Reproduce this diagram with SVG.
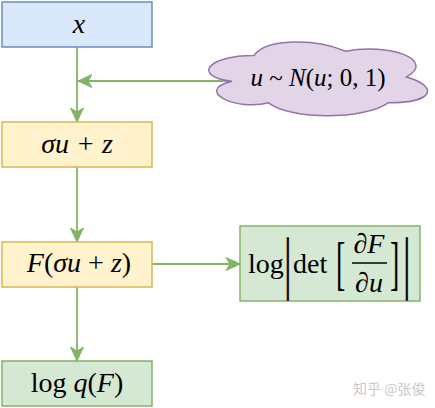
<svg xmlns="http://www.w3.org/2000/svg" width="435" height="408" viewBox="0 0 435 408">
<defs>
<marker id="arr" markerUnits="userSpaceOnUse" markerWidth="16" markerHeight="14" refX="14" refY="7" orient="auto">
<path d="M0,0.5 L14,7 L0,13.5 L4,7 Z" fill="#82b366" stroke="#82b366" stroke-width="1"/>
</marker>
<style>
.blue{fill:#dae8fc;stroke:#6c8ebf;stroke-width:1.5}
.yellow{fill:#fff2cc;stroke:#d6b656;stroke-width:1.5}
.green{fill:#d5e8d4;stroke:#82b366;stroke-width:1.5}
.cloud{fill:#e1d5e7;stroke:#9673a6;stroke-width:1.5}
.edge{stroke:#82b366;stroke-width:1.8;fill:none;marker-end:url(#arr)}
.m{font-family:"Liberation Serif",serif;font-size:28px;fill:#000}
.i{font-style:italic}
.d{stroke:#000;stroke-width:0.7}
.wm{font-family:"Noto Sans CJK SC",sans-serif;font-size:14px;fill:#c8c8c8}
</style>
</defs>
<rect width="435" height="408" fill="#ffffff"/>
<g id="connectors">
<line class="edge" x1="77" y1="47" x2="77" y2="122"/>
<line class="edge" x1="233" y1="81" x2="78" y2="81"/>
<line class="edge" x1="77" y1="167" x2="77" y2="242"/>
<line class="edge" x1="152" y1="264" x2="240" y2="264"/>
<line class="edge" x1="77" y1="287" x2="77" y2="361"/>
</g>
<g id="node-x">
<rect class="blue" x="2" y="2" width="150" height="45"/>
<text class="m i" x="79" y="33" text-anchor="middle">x</text>
</g>
<g id="node-noise">
<path class="cloud" d="M254,55.5 C205.2,55.5 193,77 232,81.3 C193,90.8 236.9,111.4 268.6,102.8 C290.6,120 363.8,120 388.2,102.8 C437,102.8 437,85.6 406.5,77 C437,59.8 388.2,42.6 345.5,51.2 C315,38.3 266.2,38.3 254,55.5 Z"/>
<text class="m" style="font-size:25px" x="318" y="86" text-anchor="middle"><tspan class="i">u</tspan> ~ <tspan class="i">N</tspan>(<tspan class="i">u</tspan>; 0, 1)</text>
</g>
<g id="node-affine">
<rect class="yellow" x="2" y="122" width="150" height="45"/>
<text class="m i" x="77" y="153" text-anchor="middle">σu + z</text>
</g>
<g id="node-F">
<rect class="yellow" x="2" y="242" width="150" height="45"/>
<text class="m" x="79" y="272" text-anchor="middle"><tspan class="i">F</tspan>(<tspan class="i">σu</tspan> + <tspan class="i">z</tspan>)</text>
</g>
<g id="node-logdet">
<rect class="green" x="240" y="226" width="180" height="75"/>
<text class="m" x="248" y="273">log</text>
<text class="m d" transform="translate(285,286) scale(1,2.4)">|</text>
<text class="m" x="293" y="273">det</text>
<text class="m" transform="translate(336,283) scale(1,2.1)">[</text>
<text class="m" x="369" y="253" text-anchor="middle">∂<tspan class="i">F</tspan></text>
<line x1="352" y1="263" x2="387" y2="263" stroke="#000" stroke-width="1.3"/>
<text class="m" x="369" y="292" text-anchor="middle">∂<tspan class="i">u</tspan></text>
<text class="m" transform="translate(390,283) scale(1,2.1)">]</text>
<text class="m d" transform="translate(404,286) scale(1,2.4)">|</text>
</g>
<g id="node-logq">
<rect class="green" x="2" y="361" width="150" height="45"/>
<text class="m" x="77" y="392" text-anchor="middle">log <tspan class="i">q</tspan>(<tspan class="i">F</tspan>)</text>
</g>
<text class="wm" x="353" y="394">知乎 @张俊</text>
</svg>
